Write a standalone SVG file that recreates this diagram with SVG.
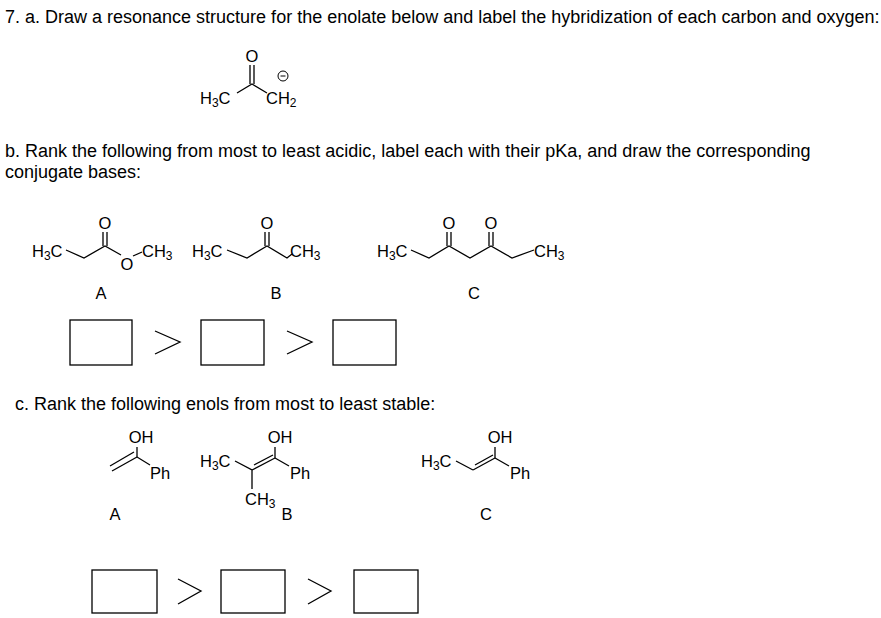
<svg xmlns="http://www.w3.org/2000/svg" width="881" height="618" viewBox="0 0 881 618">
<style>
text{font-family:"Liberation Sans",Arial,sans-serif;fill:#000}
.q{font-size:18px}
.a{font-size:16.5px}
.s{font-size:12px}
line,polyline{stroke:#000;stroke-width:1.3;fill:none}
rect.b{fill:#fff;stroke:#000;stroke-width:1.3}
</style>
<rect width="881" height="618" fill="#fff"/>
<text class="q" x="5" y="23">7. a.  Draw a resonance structure for the enolate below and label the hybridization of each carbon and oxygen:</text>
<text class="q" x="5" y="157">b.  Rank the following from most to least acidic, label each with their pKa, and draw the corresponding</text>
<text class="q" x="5" y="178">conjugate bases:</text>
<text class="q" x="15" y="410">c.  Rank the following enols from most to least stable:</text>
<g id="enolate">
<text class="a" x="252" y="62" text-anchor="middle">O</text>
<text class="a" x="200" y="104">H<tspan class="s" dy="3">3</tspan><tspan dy="-3">C</tspan></text>
<text class="a" x="266" y="104">CH<tspan class="s" dy="3">2</tspan></text>
<circle cx="283" cy="76" r="5" fill="none" stroke="#000" stroke-width="1"/>
<line x1="280.5" y1="76" x2="285.5" y2="76" style="stroke-width:1"/>
<polyline points="237,93 252,84 267,93"/>
<line x1="250" y1="84" x2="250" y2="65"/><line x1="254" y1="84" x2="254" y2="65"/>
</g>
<g id="molA">
<text class="a" x="32" y="257">H<tspan class="s" dy="3">3</tspan><tspan dy="-3">C</tspan></text>
<text class="a" x="105" y="229" text-anchor="middle">O</text>
<text class="a" x="127" y="270" text-anchor="middle">O</text>
<text class="a" x="142" y="257">CH<tspan class="s" dy="3">3</tspan></text>
<polyline points="66,250 84,258 105,246 121,255"/>
<polyline points="133,256 142,252"/>
<line x1="103" y1="246" x2="103" y2="232"/><line x1="107" y1="246" x2="107" y2="232"/>
<text class="a" x="101" y="299" text-anchor="middle">A</text>
</g>
<g id="molB">
<text class="a" x="192" y="257">H<tspan class="s" dy="3">3</tspan><tspan dy="-3">C</tspan></text>
<text class="a" x="267" y="229" text-anchor="middle">O</text>
<text class="a" x="290" y="257">CH<tspan class="s" dy="3">3</tspan></text>
<polyline points="227,250 247,258 267,246 287,258 292,254"/>
<line x1="265" y1="246" x2="265" y2="232"/><line x1="269" y1="246" x2="269" y2="232"/>
<text class="a" x="276" y="299" text-anchor="middle">B</text>
</g>
<g id="molC">
<text class="a" x="377" y="257">H<tspan class="s" dy="3">3</tspan><tspan dy="-3">C</tspan></text>
<text class="a" x="449" y="229" text-anchor="middle">O</text>
<text class="a" x="491" y="229" text-anchor="middle">O</text>
<text class="a" x="534" y="257">CH<tspan class="s" dy="3">3</tspan></text>
<polyline points="411,250 429,258 449,246 470,258 491,246 512,258 534,250"/>
<line x1="447" y1="246" x2="447" y2="232"/><line x1="451" y1="246" x2="451" y2="232"/>
<line x1="489" y1="246" x2="489" y2="232"/><line x1="493" y1="246" x2="493" y2="232"/>
<text class="a" x="474" y="299" text-anchor="middle">C</text>
</g>
<g id="boxes1">
<rect class="b" x="70" y="320" width="62" height="45"/>
<rect class="b" x="201" y="320" width="63" height="45"/>
<rect class="b" x="333" y="320" width="63" height="45"/>
</g>
<g id="enolA">
<text class="a" x="141" y="443" text-anchor="middle">OH</text>
<text class="a" x="150" y="479">Ph</text>
<line x1="137" y1="457" x2="137" y2="447"/>
<line x1="137" y1="457" x2="112" y2="471"/><line x1="134" y1="452" x2="110" y2="466"/>
<line x1="137" y1="457" x2="150" y2="465"/>
<text class="a" x="115" y="520" text-anchor="middle">A</text>
</g>
<g id="enolB">
<text class="a" x="200" y="467">H<tspan class="s" dy="3">3</tspan><tspan dy="-3">C</tspan></text>
<text class="a" x="280" y="443" text-anchor="middle">OH</text>
<text class="a" x="290" y="479">Ph</text>
<text class="a" x="245" y="505">CH<tspan class="s" dy="3">3</tspan></text>
<polyline points="235,461 252,470 252,489"/>
<line x1="252" y1="470" x2="275" y2="458"/><line x1="254" y1="465" x2="273" y2="455"/>
<line x1="275" y1="458" x2="275" y2="447"/><line x1="275" y1="458" x2="289" y2="466"/>
<text class="a" x="287" y="520" text-anchor="middle">B</text>
</g>
<g id="enolC">
<text class="a" x="421" y="467">H<tspan class="s" dy="3">3</tspan><tspan dy="-3">C</tspan></text>
<text class="a" x="500" y="443" text-anchor="middle">OH</text>
<text class="a" x="510" y="479">Ph</text>
<line x1="456" y1="461" x2="473" y2="470"/>
<line x1="473" y1="470" x2="495" y2="458"/><line x1="475" y1="465" x2="493" y2="455"/>
<line x1="495" y1="458" x2="495" y2="447"/><line x1="495" y1="458" x2="509" y2="466"/>
<text class="a" x="486" y="520" text-anchor="middle">C</text>
</g>
<g id="boxes2">
<rect class="b" x="92" y="570" width="65" height="43"/>
<rect class="b" x="221" y="570" width="64" height="43"/>
<rect class="b" x="354" y="570" width="64" height="43"/>
</g>
<g id="connectors">
<polyline points="155,331 180,342 155,354"/>
<polyline points="287,331 312,342 287,354"/>
<polyline points="178,579 201,591 178,604"/>
<polyline points="308,579 331,591 308,604"/>
</g>
</svg>
